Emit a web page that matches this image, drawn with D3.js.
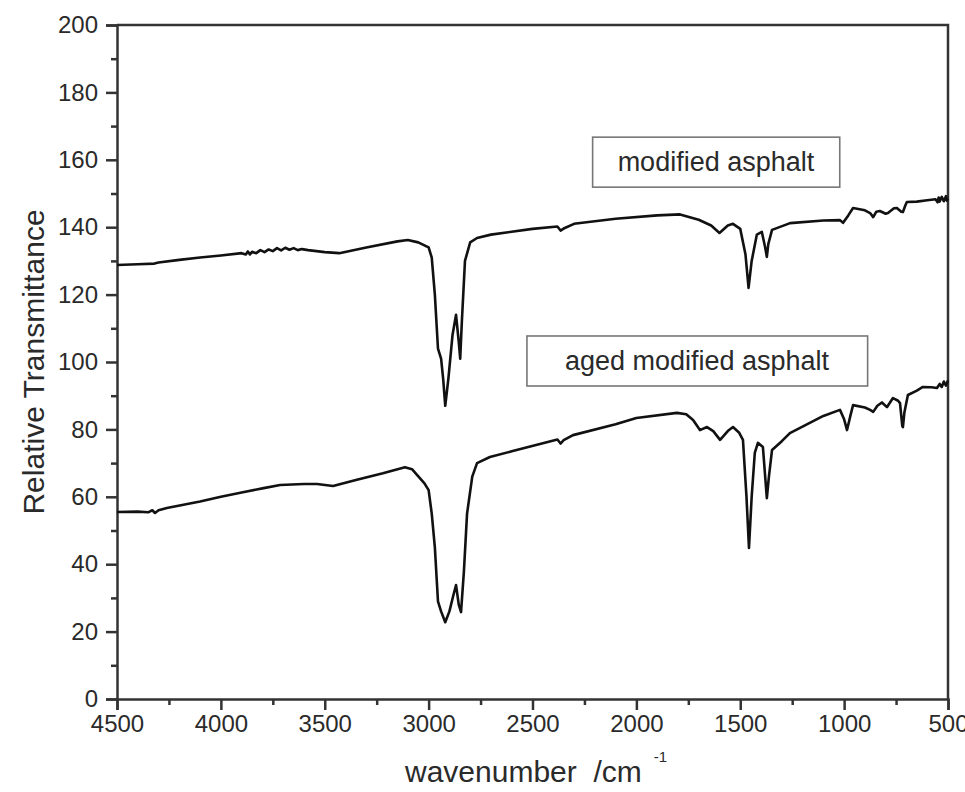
<!DOCTYPE html>
<html>
<head>
<meta charset="utf-8">
<script src="https://cdn.jsdelivr.net/npm/d3@7"></script>
<style>
  body { margin: 0; background: #fff; }
  svg text { font-family: "Liberation Sans", Arial, sans-serif; fill: #2a2a2a; }
</style>
</head>
<body>
<div id="chart"></div>
<script>
// FTIR spectra, values
const modWn = [4500, 4400, 4320, 4300, 4200, 4100, 4000, 3900, 3880, 3870, 3860, 3850, 3830, 3810, 3790, 3770, 3750, 3730, 3710, 3690, 3670, 3650, 3630, 3610, 3580, 3500, 3430, 3300, 3150, 3100, 3050, 3000, 2985, 2970, 2955, 2940, 2930, 2920, 2905, 2885, 2868, 2855, 2848, 2840, 2825, 2800, 2767, 2700, 2500, 2380, 2365, 2350, 2300, 2100, 1900, 1790, 1700, 1640, 1600, 1560, 1535, 1500, 1475, 1460, 1445, 1420, 1396, 1380, 1372, 1365, 1347, 1260, 1100, 1020, 1005, 980, 957, 900, 875, 860, 845, 828, 800, 789, 760, 746, 725, 717, 705, 698, 650, 600, 560, 550, 545, 540, 530, 520, 510, 505, 500]
const modT = [128.8, 129.0, 129.2, 129.5, 130.3, 131.0, 131.6, 132.3, 131.9, 132.8, 131.9, 132.7, 132.3, 133.2, 132.6, 133.4, 132.9, 133.8, 133.1, 133.9, 133.3, 133.8, 133.2, 133.5, 133.2, 132.6, 132.3, 134.0, 135.8, 136.2, 135.5, 134.0, 131, 120, 104, 101, 95, 87, 95, 108, 114, 106, 101, 112, 130, 135.5, 136.8, 137.8, 139.5, 140.2, 139.0, 139.6, 141.0, 142.5, 143.5, 143.8, 142.2, 140.5, 138.3, 140.5, 141.0, 139.5, 132, 122, 130, 137.8, 138.6, 134, 131.2, 135, 139.2, 141.2, 142.0, 142.1, 141.3, 143.5, 145.7, 145.0, 144.2, 143.0, 144.6, 144.8, 144.0, 144.2, 145.6, 145.7, 144.6, 144.5, 146.5, 147.5, 147.6, 148.0, 148.3, 147.4, 148.8, 147.6, 149.0, 147.7, 149.2, 147.9, 148.6]

const agedWn = [4500, 4400, 4350, 4330, 4317, 4300, 4260, 4100, 4000, 3900, 3800, 3715, 3600, 3537, 3460, 3350, 3220, 3114, 3080, 3056, 3020, 3000, 2985, 2970, 2955, 2940, 2920, 2900, 2880, 2868, 2855, 2844, 2830, 2815, 2790, 2767, 2705, 2600, 2380, 2365, 2350, 2305, 2100, 2000, 1805, 1760, 1727, 1694, 1660, 1630, 1597, 1560, 1535, 1505, 1487, 1470, 1458, 1445, 1430, 1415, 1391, 1380, 1372, 1362, 1347, 1300, 1261, 1100, 1020, 1000, 986, 970, 957, 900, 875, 860, 840, 818, 794, 765, 740, 731, 720, 717, 710, 693, 650, 621, 580, 553, 540, 530, 520, 510, 500]
const agedT = [55.5, 55.6, 55.4, 56.0, 55.2, 56.0, 56.7, 58.6, 60.0, 61.3, 62.5, 63.5, 63.8, 63.8, 63.2, 65.0, 67.0, 68.8, 68.2, 66.5, 64, 62, 55, 45, 29, 26, 22.8, 26, 31, 33.8, 28, 25.8, 38, 55, 66, 70, 71.8, 73.5, 77.0, 75.8, 76.8, 78.3, 81.5, 83.4, 84.9, 84.5, 82.8, 79.8, 80.7, 79.5, 76.9, 79.5, 80.7, 79.0, 76.9, 60, 44.8, 60, 73, 76.0, 74.8, 66, 59.6, 66, 73.9, 76.5, 78.9, 84.0, 85.8, 83, 79.8, 84, 87.2, 86.5, 85.8, 85.2, 87.0, 88.0, 86.6, 89.3, 88.5, 87.8, 81, 80.7, 85, 90.2, 91.5, 92.6, 92.5, 92.3, 93.5, 92.6, 94.2, 93.0, 94.5]

const xMajor = [4500, 4000, 3500, 3000, 2500, 2000, 1500, 1000, 500]
const xMinor = [4250, 3750, 3250, 2750, 2250, 1750, 1250, 750]
const yMajor = [0, 20, 40, 60, 80, 100, 120, 140, 160, 180, 200]
const yMinor = [10, 30, 50, 70, 90, 110, 130, 150, 170, 190]

// boxed curve labels, anchored in data coordinates
const labels = [
  {text: "modified asphalt", wn: 1617, t: 159.3, pad: 25},
  {text: "aged modified asphalt", wn: 1708, t: 100.3, pad: 38}
]

const width = 965, height = 792
const margin = {left: 117, right: 17, top: 25, bottom: 93}

const svg = d3.select("#chart").append("svg")
  .attr("width", width)
  .attr("height", height)

const x = d3.scaleLinear().domain([4500, 500]).range([margin.left, width - margin.right])
const y = d3.scaleLinear().domain([0, 200]).range([height - margin.bottom, margin.top])

const axisColor = "#333"

// frame (top and right)
svg.append("path")
  .attr("d", `M${x(4500)},${y(200)}H${x(500)}V${y(0)}`)
  .attr("fill", "none")
  .attr("stroke", axisColor)
  .attr("stroke-width", 2.5)

function styleAxis(g) {
  g.selectAll("path.domain").attr("stroke", axisColor).attr("stroke-width", 2.5)
  g.selectAll(".tick line").attr("stroke", axisColor).attr("stroke-width", 2.5)
  g.selectAll(".tick text").attr("font-size", 24).attr("fill", "#2a2a2a")
}

const gx = svg.append("g")
  .attr("transform", `translate(0,${y(0)})`)
  .call(d3.axisBottom(x).tickValues(xMajor).tickSize(11).tickPadding(5).tickFormat(d3.format("d")))
styleAxis(gx)
const gxm = svg.append("g")
  .attr("transform", `translate(0,${y(0)})`)
  .call(d3.axisBottom(x).tickValues(xMinor).tickSize(6).tickFormat(""))
gxm.select("path.domain").remove()
styleAxis(gxm)

const gy = svg.append("g")
  .attr("transform", `translate(${x(4500)},0)`)
  .call(d3.axisLeft(y).tickValues(yMajor).tickSize(11).tickPadding(8))
styleAxis(gy)
const gym = svg.append("g")
  .attr("transform", `translate(${x(4500)},0)`)
  .call(d3.axisLeft(y).tickValues(yMinor).tickSize(6).tickFormat(""))
gym.select("path.domain").remove()
styleAxis(gym)

// labels in boxes (drawn before the curves)
labels.forEach(l => {
  const g = svg.append("g")
  const t = g.append("text")
    .attr("x", x(l.wn))
    .attr("y", y(l.t))
    .attr("text-anchor", "middle")
    .attr("dominant-baseline", "central")
    .attr("font-size", 27)
    .text(l.text)
  const b = t.node().getBBox()
  g.insert("rect", "text")
    .attr("x", b.x - l.pad)
    .attr("y", b.y - 10)
    .attr("width", b.width + 2 * l.pad)
    .attr("height", b.height + 20)
    .attr("fill", "#fff")
    .attr("stroke", "#777")
    .attr("stroke-width", 1.6)
})

// spectra
const line = d3.line().x(d => x(d[0])).y(d => y(d[1]))
const series = [d3.zip(modWn, modT), d3.zip(agedWn, agedT)]
svg.append("g").selectAll("path")
  .data(series)
  .join("path")
    .attr("d", line)
    .attr("fill", "none")
    .attr("stroke", "#111")
    .attr("stroke-width", 2.6)
    .attr("stroke-linejoin", "round")

// axis titles
svg.append("text")
  .attr("transform", `translate(44,${(y(0) + y(200)) / 2}) rotate(-90)`)
  .attr("text-anchor", "middle")
  .attr("font-size", 30)
  .text("Relative Transmittance")

const xt = svg.append("text")
  .attr("x", 405)
  .attr("y", 782)
  .attr("font-size", 30)
  .attr("xml:space", "preserve")
xt.append("tspan").text("wavenumber  /cm")
xt.append("tspan").attr("dx", 12).attr("dy", -20).attr("font-size", 15).text("-1")
</script>
</body>
</html>
